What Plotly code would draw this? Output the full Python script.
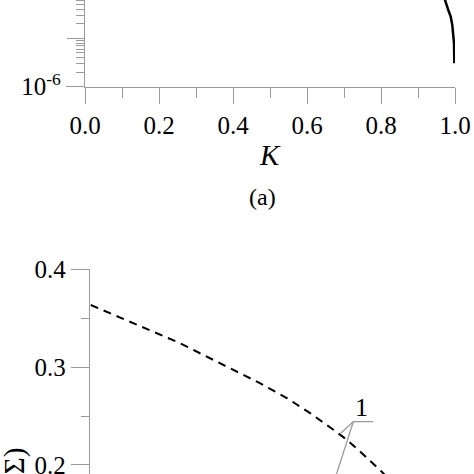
import plotly.graph_objects as go

# panel (a): curve close to K = 1 on a log axis
k_a = [0.960, 0.973, 0.9818, 0.9884, 0.9927, 0.9955, 0.9973, 0.9982]
v_a = [1.0e-4, 6.24e-5, 3.87e-5, 2.82e-5, 1.89e-5, 1.28e-5, 7.9e-6, 3.05e-6]

# panel (b): dashed curve 1
k_b = [0.002, 0.054, 0.135, 0.243, 0.306, 0.387, 0.459, 0.532, 0.595, 0.658, 0.694, 0.730, 0.788, 0.86]
v_b = [0.3635, 0.355, 0.3415, 0.3245, 0.3125, 0.2972, 0.2836, 0.2683, 0.2529, 0.2359, 0.2257, 0.2137, 0.1932, 0.165]

# leader lines of label "1"
lead_k = [0.7657, 0.7116, 0.6776, None, 0.7116, 0.644]
lead_v = [0.2442, 0.2442, 0.2323, None, 0.2442, 0.1644]

xticks = [0.0, 0.2, 0.4, 0.6, 0.8, 1.0]
yticks_a = [1e-6]
yticktext_a = ["10<sup>-6</sup>"]
yminor_a = [2e-6, 3e-6, 4e-6, 5e-6, 6e-6, 7e-6, 8e-6, 9e-6, 2e-5, 3e-5, 4e-5, 5e-5, 6e-5]
ylong_a = [1e-5]
yticks_b = [0.2, 0.3, 0.4]
yminor_b = [0.25, 0.35]

AX = "#9a9a9a"
FONT = "Liberation Serif"

fig = go.Figure()
fig.add_trace(go.Scatter(x=k_a, y=v_a, mode="lines", line=dict(color="black", width=2.5),
                         xaxis="x", yaxis="y", showlegend=False))
fig.add_trace(go.Scatter(x=k_b, y=v_b, mode="lines",
                         line=dict(color="black", width=2, dash="8px,6px"),
                         xaxis="x2", yaxis="y2", showlegend=False))
fig.add_trace(go.Scatter(x=lead_k, y=lead_v, mode="lines", line=dict(color=AX, width=1.3),
                         xaxis="x2", yaxis="y2", showlegend=False))
# empty trace so the helper axis exists
fig.add_trace(go.Scatter(x=[None], y=[None], xaxis="x", yaxis="y3", showlegend=False))

fig.update_layout(
    width=474, height=474,
    margin=dict(l=0, r=0, t=0, b=0, autoexpand=False),
    paper_bgcolor="white", plot_bgcolor="white",
    font=dict(family=FONT, size=25, color="black"),
    xaxis=dict(domain=[85 / 474, 455 / 474], range=[0, 1], anchor="y", automargin=False,
               ticklabeloverflow="allow",
               showline=True, linecolor=AX, linewidth=1.3, showgrid=False, zeroline=False,
               ticks="outside", ticklen=16, tickcolor=AX, tickwidth=1.3,
               tickmode="array", tickvals=xticks, tickformat=".1f",
               minor=dict(dtick=0.1, ticks="outside", ticklen=10, tickcolor=AX, tickwidth=1.3)),
    yaxis=dict(domain=[1 - 86.7 / 474, 1], type="log", range=[-6, -4.205], anchor="x",
               automargin=False, ticklabeloverflow="allow",
               showline=True, linecolor=AX, linewidth=1.3, showgrid=False, zeroline=False,
               ticks="outside", ticklen=18, tickcolor=AX, tickwidth=1.3,
               tickmode="array", tickvals=yticks_a, ticktext=yticktext_a,
               minor=dict(tickmode="array", tickvals=yminor_a, ticks="outside", ticklen=8,
                          tickcolor=AX, tickwidth=1.3)),
    # second copy of the top y axis, only to draw the long unlabelled tick at 1e-5
    yaxis3=dict(overlaying="y", type="log", range=[-6, -4.205], anchor="x", automargin=False,
                showline=False, showgrid=False, zeroline=False, showticklabels=False,
                ticks="outside", ticklen=17, tickcolor=AX, tickwidth=1.3,
                tickmode="array", tickvals=ylong_a),
    xaxis2=dict(domain=[90 / 474, 460 / 474], range=[0, 1], anchor="y2", visible=False,
                automargin=False),
    yaxis2=dict(domain=[0, 1 - 269.3 / 474], range=[0.1907, 0.4], anchor="x2", automargin=False,
                ticklabeloverflow="allow",
                showline=True, linecolor=AX, linewidth=1.3, showgrid=False, zeroline=False,
                ticks="outside", ticklen=18, tickcolor=AX, tickwidth=1.3,
                tickmode="array", tickvals=yticks_b, tickformat=".1f",
                minor=dict(tickmode="array", tickvals=yminor_b, ticks="outside", ticklen=8,
                           tickcolor=AX, tickwidth=1.3)),
    annotations=[
        dict(text="<i>K</i>", xref="paper", yref="paper", x=270 / 474, y=1 - 155 / 474,
             showarrow=False, font=dict(size=29), xanchor="center", yanchor="middle"),
        dict(text="(a)", xref="paper", yref="paper", x=262 / 474, y=1 - 197 / 474,
             showarrow=False, font=dict(size=24), xanchor="center", yanchor="middle"),
        dict(text="1", xref="x2", yref="y2", x=0.733, y=0.2587,
             showarrow=False, font=dict(size=26), xanchor="center", yanchor="middle"),
        dict(text="F(Σ)", xref="paper", yref="paper", x=14 / 474, y=1 - 446 / 474,
             showarrow=False, textangle=-90, font=dict(size=29),
             xanchor="center", yanchor="top"),
    ],
)

# the page has the browser's default 8px body margin; drop it so the figure fills the window
fig.write_html("out.html", config={"displayModeBar": False},
               post_script="document.body.style.margin='0px';")
